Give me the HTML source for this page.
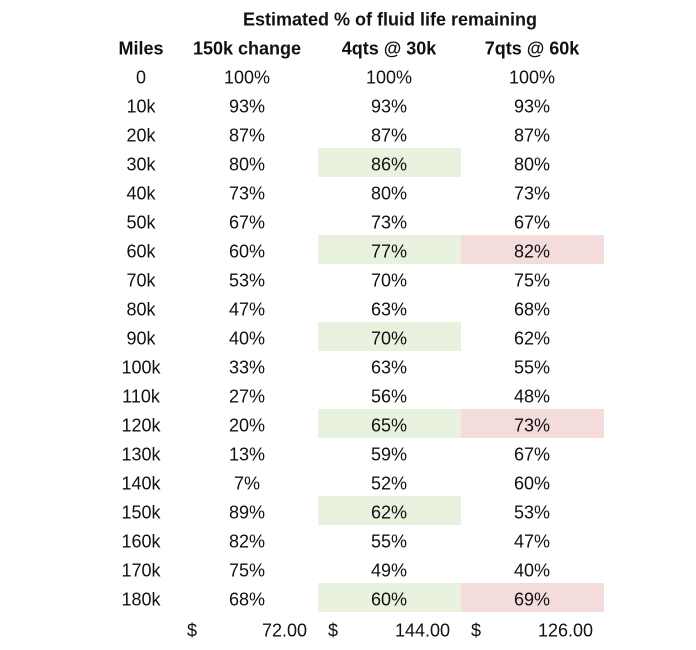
<!DOCTYPE html>
<html><head><meta charset="utf-8"><style>
body{margin:0;background:#fff;width:696px;height:650px;position:relative;overflow:hidden;font-family:"Liberation Sans",sans-serif;font-size:18px;color:#111}
.t{position:absolute;transform:translate(-50%,-50%);white-space:nowrap}
.b{font-weight:bold}
.h{position:absolute;height:29px;width:143px}
.g{background:#e9f1df}.r{background:#f5dcdc}
.rt{position:absolute;transform:translateY(-50%);white-space:nowrap}
</style></head><body>
<div class="t b" style="left:390px;top:20px">Estimated % of fluid life remaining</div>
<div class="t b" style="left:141px;top:49px">Miles</div>
<div class="t b" style="left:247px;top:49px">150k change</div>
<div class="t b" style="left:389px;top:49px">4qts @ 30k</div>
<div class="t b" style="left:532px;top:49px">7qts @ 60k</div>
<div id="rows"></div>
<script>
(function(){
var m=["0","10k","20k","30k","40k","50k","60k","70k","80k","90k","100k","110k","120k","130k","140k","150k","160k","170k","180k"];
var a=["100%","93%","87%","80%","73%","67%","60%","53%","47%","40%","33%","27%","20%","13%","7%","89%","82%","75%","68%"];
var b=["100%","93%","87%","86%","80%","73%","77%","70%","63%","70%","63%","56%","65%","59%","52%","62%","55%","49%","60%"];
var c=["100%","93%","87%","80%","73%","67%","82%","75%","68%","62%","55%","48%","73%","67%","60%","53%","47%","40%","69%"];
var h="";
for(var i=0;i<19;i++){var ty=61+29*i,cy=ty+17;
if(i%3==0&&i>0)h+='<div class="h g" style="left:318px;top:'+ty+'px"></div>';
if(i%6==0&&i>0)h+='<div class="h r" style="left:461px;top:'+ty+'px"></div>';
h+='<div class="t" style="left:141px;top:'+cy+'px">'+m[i]+'</div>';
h+='<div class="t" style="left:247px;top:'+cy+'px">'+a[i]+'</div>';
h+='<div class="t" style="left:389px;top:'+cy+'px">'+b[i]+'</div>';
h+='<div class="t" style="left:532px;top:'+cy+'px">'+c[i]+'</div>';}
document.getElementById("rows").innerHTML=h;
})();
</script>
<div class="rt" style="left:187px;top:631px">$</div>
<div class="rt" style="right:389px;top:631px">72.00</div>
<div class="rt" style="left:328px;top:631px">$</div>
<div class="rt" style="right:246px;top:631px">144.00</div>
<div class="rt" style="left:471px;top:631px">$</div>
<div class="rt" style="right:103px;top:631px">126.00</div>
</body></html>
